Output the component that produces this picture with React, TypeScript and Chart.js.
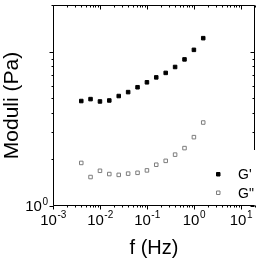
import React, { useEffect, useRef } from 'react';
import { Chart, registerables } from 'chart.js';

Chart.register(...registerables);

// ---- data ----
const frequencies = [0.004, 0.0063, 0.01, 0.0158, 0.0251, 0.0398, 0.0631, 0.1, 0.158, 0.251, 0.398, 0.631, 1.0, 1.58];
const storageModulus = [4.78, 4.92, 4.75, 4.82, 5.15, 5.46, 5.87, 6.32, 6.8, 7.27, 7.94, 8.89, 10.25, 12.2];
const lossModulus = [1.9, 1.54, 1.69, 1.61, 1.59, 1.62, 1.64, 1.7, 1.85, 1.96, 2.15, 2.37, 2.79, 3.47];
const seriesNames = ["G'", 'G"'];
const xRange = [0.001, 20];
const yRange = [1, 20];
const xLabelPowers = [-3, -2, -1, 0, 1];
const yLabelPowers = [0];
const xTitle = 'f (Hz)';
const yTitle = 'Moduli (Pa)';

const FONT = "'Liberation Sans', Arial, Helvetica, sans-serif";
const OPEN_GRAY = '#7d7d7d';

function logTicks(min: number, max: number) {
  const out: { v: number; major: boolean; e: number }[] = [];
  for (let e = Math.floor(Math.log10(min)); e <= Math.ceil(Math.log10(max)); e++) {
    for (let m = 1; m <= 9; m++) {
      const v = m * Math.pow(10, e);
      if (v >= min * 0.9999 && v <= max * 1.0001) out.push({ v, major: m === 1, e });
    }
  }
  return out;
}

function drawPow(ctx: CanvasRenderingContext2D, exp: number, x: number, baseline: number, align: 'center' | 'right') {
  const base = '10';
  const sup = exp < 0 ? '-' + Math.abs(exp) : String(exp);
  ctx.font = `15px ${FONT}`;
  const wb = ctx.measureText(base).width;
  ctx.font = `10px ${FONT}`;
  const ws = ctx.measureText(sup).width;
  const total = wb + ws;
  const start = align === 'center' ? x - total / 2 : x - total;
  ctx.textAlign = 'left';
  ctx.textBaseline = 'alphabetic';
  ctx.fillStyle = '#000';
  ctx.font = `15px ${FONT}`;
  ctx.fillText(base, start, baseline);
  ctx.font = `10px ${FONT}`;
  ctx.fillText(sup, start + wb + 0.5, baseline - 6.5);
}

const framePlugin = {
  id: 'frameTicks',
  afterDraw(chart: any) {
    const { ctx, chartArea: a, scales } = chart;
    const xs = scales.x;
    const ys = scales.y;
    const L = Math.round(a.left) + 0.5;
    const R = Math.round(a.right) - 0.5;
    const T = Math.round(a.top) + 0.5;
    const B = Math.round(a.bottom) - 0.5;
    ctx.save();
    ctx.strokeStyle = '#000';
    ctx.lineWidth = 1;
    ctx.beginPath();
    ctx.rect(L, T, R - L, B - T);
    for (const t of logTicks(xRange[0], xRange[1])) {
      const px = Math.round(xs.getPixelForValue(t.v)) + 0.5;
      const len = t.major ? 4 : 2;
      ctx.moveTo(px, B);
      ctx.lineTo(px, B + len);
      ctx.moveTo(px, T);
      ctx.lineTo(px, T + len);
    }
    for (const t of logTicks(yRange[0], yRange[1])) {
      const py = Math.round(ys.getPixelForValue(t.v)) + 0.5;
      const len = t.major ? 4 : 2;
      ctx.moveTo(L, py);
      ctx.lineTo(L - len, py);
      ctx.moveTo(R, py);
      ctx.lineTo(R - len, py);
    }
    ctx.stroke();

    for (const e of xLabelPowers) {
      const px = xs.getPixelForValue(Math.pow(10, e));
      drawPow(ctx, e, px, B + 19, 'center');
    }
    for (const e of yLabelPowers) {
      const py = ys.getPixelForValue(Math.pow(10, e));
      drawPow(ctx, e, L - 6, py + 5, 'right');
    }

    // legend
    ctx.fillStyle = '#fff';
    ctx.fillRect(209, 150, 51, B - 0.5 - 150);
    const mx = 218;
    const rows = [
      { y: 174, fill: '#000', stroke: '#000' },
      { y: 192.5, fill: '#fff', stroke: OPEN_GRAY },
    ];
    rows.forEach((r, i) => {
      ctx.fillStyle = r.fill;
      ctx.strokeStyle = r.stroke;
      ctx.beginPath();
      ctx.rect(mx - 1.5, r.y - 1.5, 3.5, 3.5);
      ctx.fill();
      ctx.stroke();
      ctx.fillStyle = '#000';
      ctx.font = `14px ${FONT}`;
      ctx.textAlign = 'left';
      ctx.textBaseline = 'alphabetic';
      ctx.fillText(seriesNames[i], 238, r.y + 5);
    });
    ctx.restore();
  },
};

export default function App() {
  const ref = useRef<HTMLCanvasElement | null>(null);
  useEffect(() => {
    if (!ref.current) return;
    const chart = new Chart(ref.current, {
      type: 'scatter',
      data: {
        datasets: [
          {
            label: seriesNames[0],
            data: frequencies.map((f, i) => ({ x: f, y: storageModulus[i] })),
            pointStyle: 'rect',
            pointRadius: 2.5,
            backgroundColor: '#000',
            borderColor: '#000',
            borderWidth: 1,
            showLine: false,
          },
          {
            label: seriesNames[1],
            data: frequencies.map((f, i) => ({ x: f, y: lossModulus[i] })),
            pointStyle: 'rect',
            pointRadius: 2.5,
            backgroundColor: '#fff',
            borderColor: OPEN_GRAY,
            borderWidth: 1,
            showLine: false,
          },
        ],
      },
      options: {
        animation: false,
        responsive: false,
        devicePixelRatio: 1,
        layout: { padding: { top: 1, right: 3, left: 0, bottom: 0 } },
        plugins: { legend: { display: false }, tooltip: { enabled: false } },
        scales: {
          x: {
            type: 'logarithmic',
            min: xRange[0],
            max: xRange[1],
            grid: { display: false },
            border: { display: false },
            ticks: { display: false },
            title: { display: true, text: xTitle, color: '#000', font: { family: FONT, size: 20 }, padding: 0 },
            afterFit: (s: any) => { s.height = 54; },
          },
          y: {
            type: 'logarithmic',
            min: yRange[0],
            max: yRange[1],
            grid: { display: false },
            border: { display: false },
            ticks: { display: false },
            title: { display: true, text: yTitle, color: '#000', font: { family: FONT, size: 21 }, padding: 0 },
            afterFit: (s: any) => { s.width = 53; },
          },
        },
      },
      plugins: [framePlugin],
    } as any);
    return () => chart.destroy();
  }, []);
  return (
    <div style={{ position: 'absolute', left: 0, top: 0, width: 260, height: 260, background: '#fff' }}>
      <canvas ref={ref} width={260} height={260} style={{ display: 'block' }} />
    </div>
  );
}
